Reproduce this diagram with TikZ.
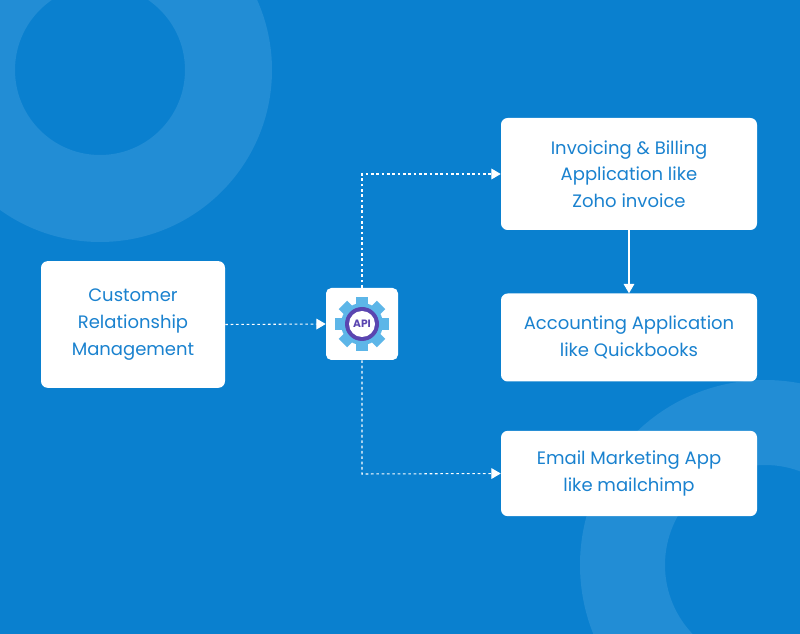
\documentclass[tikz,border=0pt]{standalone}
\usepackage{fontspec}
\setmainfont{Poppins}
\usetikzlibrary{arrows.meta}
\definecolor{bg}{HTML}{0A80CF}
\definecolor{ring}{HTML}{228DD5}
\definecolor{txt}{HTML}{1A82CF}
\definecolor{gearc}{HTML}{5DB6E8}
\definecolor{purp}{HTML}{5A45B0}
\tikzset{box/.style={draw=none,fill=white,rounded corners=5pt,align=center,text=txt,font=\fontsize{13.5}{20}\selectfont,inner sep=0pt},
conn/.style={white,dash pattern=on 2pt off 2pt,line width=0.8pt,-{Triangle[length=7pt,width=8pt]}}}
\begin{document}
\begin{tikzpicture}[x=0.75pt,y=-0.75pt]
\useasboundingbox (0,0) rectangle (800,634);
\begin{scope}
\clip (0,0) rectangle (800,634);
\fill[bg] (0,0) rectangle (800,634);
\fill[ring,even odd rule] (100,70) circle[radius=172] (100,70) circle[radius=85];
\fill[ring,even odd rule] (765,565) circle[radius=185] (765,565) circle[radius=100];
\end{scope}
\node[box,minimum width=138pt,minimum height=95pt] (crm) at (133,324.5) {Customer\\Relationship\\Management};
\node[box,minimum width=192pt,minimum height=84pt] (inv) at (629,174) {Invoicing \& Billing\\Application like\\Zoho invoice};
\node[box,minimum width=192pt,minimum height=66pt] (acc) at (629,337.5) {Accounting Application\\like Quickbooks};
\node[box,minimum width=192pt,minimum height=64pt] (mail) at (629,473.5) {Email Marketing App\\like mailchimp};
\node[fill=white,rounded corners=4pt,minimum size=54pt,inner sep=0pt] (api) at (362,324) {};
\fill[gearc] (362,324) circle[radius=21];
\foreach \a in {0,45,...,315}{
  \fill[gearc,rotate around={\a:(362,324)}] (356,297) rectangle (368,306);
}
\fill[purp] (362,324) circle[radius=17];
\fill[white] (362,324) circle[radius=13];
\node[text=purp,font=\fontsize{8}{8}\selectfont\bfseries] (apit) at (362,324) {API};
\coordinate (t1) at (362,174);
\coordinate (t2) at (362,474);
\draw[conn] (crm.east) -- (api.west);
\draw[conn] (api.north) -- (t1) -- (inv.west);
\draw[conn] (api.south) -- (t2) -- (mail.west);
\draw[white,line width=0.8pt,-{Triangle[length=7pt,width=8pt]}] (inv.south) -- (acc.north);
\end{tikzpicture}
\end{document}
